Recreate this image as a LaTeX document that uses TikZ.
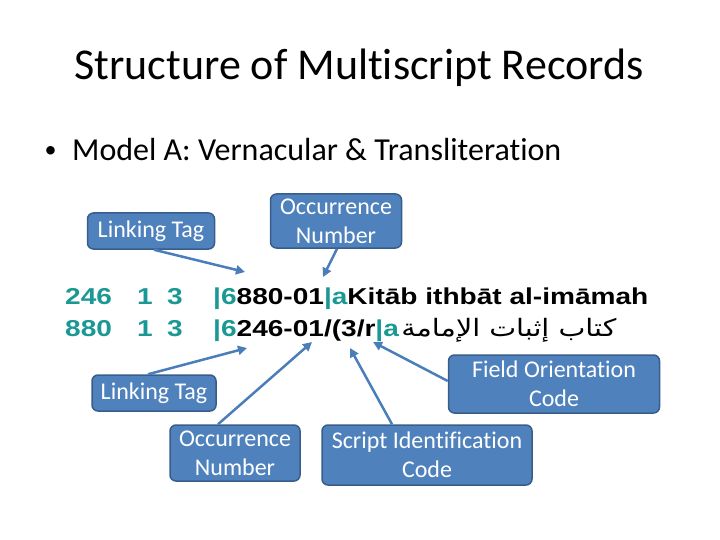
\documentclass[tikz,border=0pt]{standalone}
\usepackage{fontspec}
\usepackage{graphicx}
\setmainfont{Carlito}[Ligatures=NoCommon]
\newfontfamily\recfont{Liberation Sans}
\newfontfamily\arabicfont[Script=Arabic]{DejaVu Sans}
\TeXXeTstate=1
\usetikzlibrary{arrows.meta}
\definecolor{boxfill}{HTML}{4F81BD}
\definecolor{boxline}{HTML}{385D8A}
\definecolor{arrowblue}{HTML}{4A7EBB}
\definecolor{tagteal}{HTML}{1A9893}
\def\tg#1{\textcolor{tagteal}{#1}}
\def\wide#1{\scalebox{1.22}[1]{#1}}
\tikzset{
	tagbox/.style={draw=boxline, line width=1.5pt, fill=boxfill, rounded corners=6pt, text=white, align=center, inner sep=0pt, font=\fontsize{24}{29}\selectfont},
	pointer/.style={draw=arrowblue, line width=2.5pt, -{Triangle[length=9pt,width=9pt]}},
	rec/.style={anchor=base west, inner sep=0pt, font=\recfont\bfseries\fontsize{23}{23}\selectfont}
}

\begin{document}
\begin{tikzpicture}[x=1pt,y=-1pt]
				\useasboundingbox (0,0) rectangle (720,540);
				
				\node[anchor=base, font=\fontsize{44}{53}\selectfont] (title) at (359,80) {Structure of Multiscript Records};
				\node[anchor=base east, font=\fontsize{24}{30}\selectfont] (dot) at (60,158) {\textbullet};
				\node[anchor=base west, inner sep=0pt, font=\fontsize{32}{38}\selectfont] (model) at (72,161) {Model A: Vernacular \& Transliteration};
				
				\node[rec] (tagA) at (65,304) {\wide{\tg{246}}};
				\node[rec] (indA) at (137,304) {\wide{\tg{1}}};
				\node[rec] (indB) at (167,304) {\wide{\tg{3}}};
				\node[rec] (subA) at (213,304) {\wide{\tg{|6}880-01\tg{|a}Kitāb ithbāt al-imāmah}};
				
				\node[rec] (tagB) at (65,336) {\wide{\tg{880}}};
				\node[rec] (indC) at (137,336) {\wide{\tg{1}}};
				\node[rec] (indD) at (167,336) {\wide{\tg{3}}};
				\node[rec] (subB) at (213,336) {\wide{\tg{|6}246-01/(3/r\tg{|a}}};
				\node[anchor=base west, inner sep=0pt, font=\arabicfont\fontsize{24}{24}\selectfont] (arab) at ([xshift=2pt]subB.base east) {\resizebox{215pt}{\height}{\beginR كتاب إثبات الإمامة\endR}};
				
				\node[tagbox, minimum width=127pt, minimum height=36pt] (linkA) at (151,231) {Linking Tag};
				\node[tagbox, minimum width=131pt, minimum height=54pt] (occA) at (336,221) {Occurrence\\Number};
				\node[tagbox, minimum width=124pt, minimum height=36pt] (linkB) at (154,393) {Linking Tag};
				\node[tagbox, minimum width=130pt, minimum height=56pt] (occB) at (235,453) {Occurrence\\Number};
				\node[tagbox, minimum width=211pt, minimum height=58pt] (orient) at (554,384) {Field Orientation\\Code};
				\node[tagbox, minimum width=210pt, minimum height=60pt] (script) at (427,455) {Script Identification\\Code};
				
				\coordinate (ptA) at (245,272);
				\coordinate (ptB) at (323,277);
				\coordinate (ptC) at (247,348);
				\coordinate (ptD) at (312,342);
				\coordinate (ptE) at (350,348);
				\coordinate (ptF) at (373,342);
				
				\draw[pointer] ([xshift=3pt]linkA.south) -- (ptA);
				\draw[pointer] ([xshift=1pt]occA.south) -- (ptB);
				\draw[pointer] ([xshift=-6pt]linkB.north) -- (ptC);
				\draw[pointer] ([xshift=-17pt]occB.north) -- (ptD);
				\draw[pointer] ([xshift=-35pt]script.north) -- (ptE);
				\draw[pointer] ([yshift=3pt]orient.west) -- (ptF);
			\end{tikzpicture}
\end{document}
